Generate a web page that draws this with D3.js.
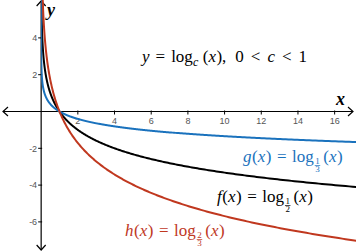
<!DOCTYPE html>
<html>
<head>
<meta charset="utf-8">
<script src="https://cdn.jsdelivr.net/npm/d3@7/dist/d3.min.js"></script>
<style>
  html, body { margin: 0; padding: 0; background: #fff; }
  svg { display: block; }
</style>
</head>
<body>
<div id="chart"></div>
<script>
const W = 356, H = 252;

// bases affichées dans les étiquettes
const BASE_NUM = [1, 1, 2];
const BASE_DEN = [3, 2, 3];
const PLOT_BASE = [0.18, 0.5, 0.667];
const NAMES    = ['g', 'f', 'h'];
const COLORS   = ['#1a72bd', '#000000', '#c0381f'];
const X_TICKS  = [2, 4, 6, 8, 10, 12, 14, 16];
const Y_TICKS  = [-6, -4, -2, 2, 4];

const SERIF = '"Liberation Serif", "DejaVu Serif", serif';

const svg = d3.select('#chart').append('svg')
  .attr('width', W).attr('height', H);

const x = d3.scaleLinear().domain([-2.08, 17]).range([3, 353]);
const y = d3.scaleLinear().domain([-7.5, 6.06]).range([249.5, 0]);

const X0 = x(0), Y0 = y(0);

// axes avec flèches
const axes = svg.append('g').attr('stroke', '#000').attr('stroke-width', 1.2).attr('fill', 'none');
axes.append('line').attr('x1', 3).attr('x2', 353).attr('y1', Y0).attr('y2', Y0);
axes.append('line').attr('x1', X0).attr('x2', X0).attr('y1', 1).attr('y2', 250);
const arrow = (pts) => axes.append('path').attr('d', d3.line()(pts));
arrow([[8, Y0 - 4.5], [3, Y0], [8, Y0 + 4.5]]);
arrow([[348, Y0 - 4.5], [353, Y0], [348, Y0 + 4.5]]);
arrow([[X0 - 4.5, 6], [X0, 1], [X0 + 4.5, 6]]);
arrow([[X0 - 4.5, 245], [X0, 250], [X0 + 4.5, 245]]);

// graduations
const tickG = svg.append('g').attr('font-family', 'Arial, "Liberation Sans", sans-serif')
  .attr('font-size', 9).attr('fill', '#555');
X_TICKS.forEach(v => {
  tickG.append('line').attr('x1', x(v)).attr('x2', x(v)).attr('y1', Y0 - 1).attr('y2', Y0 + 3)
    .attr('stroke', '#000').attr('stroke-width', 1);
  tickG.append('text').attr('x', x(v)).attr('y', Y0 + 12).attr('text-anchor', 'middle').text(v);
});
Y_TICKS.forEach(v => {
  tickG.append('line').attr('x1', X0 - 3).attr('x2', X0 + 1).attr('y1', y(v)).attr('y2', y(v))
    .attr('stroke', '#000').attr('stroke-width', 1);
  tickG.append('text').attr('x', X0 - 4).attr('y', y(v) + 3.2).attr('text-anchor', 'end').text(v);
});

// courbes
svg.append('clipPath').attr('id', 'clip').append('rect')
  .attr('x', X0).attr('y', 0).attr('width', W - X0).attr('height', H);

const xs = d3.range(-8, Math.log10(17.2), 0.005).map(e => Math.pow(10, e));
const line = d3.line().x(d => x(d[0])).y(d => y(d[1]));
[1, 0, 2].forEach(i => {
  const c = PLOT_BASE[i];
  const pts = xs.map(v => [v, Math.log(v) / Math.log(c)]).filter(p => p[1] < 7);
  svg.append('path').attr('clip-path', 'url(#clip)')
    .attr('d', line(pts)).attr('fill', 'none')
    .attr('stroke', COLORS[i]).attr('stroke-width', 2);
});

// étiquettes des axes
svg.append('text').attr('x', 47).attr('y', 16).attr('font-family', SERIF)
  .attr('font-style', 'italic').attr('font-weight', 'bold').attr('font-size', 18).text('y');
svg.append('text').attr('x', 336).attr('y', 105).attr('font-family', SERIF)
  .attr('font-style', 'italic').attr('font-weight', 'bold').attr('font-size', 18).text('x');

/**
 * Écrit une formule morceau par morceau, en avançant le curseur horizontal.
 */
function mathText(x0, y0, color) {
  const g = svg.append('g').attr('transform', `translate(${x0},${y0})`)
    .attr('fill', color).attr('font-family', SERIF);
  let cx = 0;
  const put = (txt, o = {}) => {
    cx += o.pre || 0;
    const t = g.append('text').attr('x', cx).attr('y', o.dy || 0)
      .attr('font-size', o.size || 17)
      .attr('font-style', o.it ? 'italic' : 'normal').text(txt);
    cx += t.node().getComputedTextLength() + (o.post || 0);
  };
  const frac = (n, d) => {
    const a = g.append('text').attr('y', 1.5).attr('font-size', 9).text(n);
    const b = g.append('text').attr('y', 10).attr('font-size', 9).text(d);
    const w = Math.max(a.node().getComputedTextLength(), b.node().getComputedTextLength());
    a.attr('x', cx + 1.5); b.attr('x', cx + 1.5);
    g.append('line').attr('x1', cx + 1).attr('x2', cx + w + 2)
      .attr('y1', 3.5).attr('y2', 3.5).attr('stroke', color).attr('stroke-width', 0.7);
    cx += w + 3;
  };
  return { put, frac };
}

// titre
const t = mathText(142, 62, '#000');
t.put('y', { it: true, post: 6 });
t.put('=', { post: 6 });
t.put('log');
t.put('c', { it: true, size: 12, dy: 3.5, post: 4.5 });
t.put('(');
t.put('x', { it: true, post: 0.5 });
t.put(')');
t.put(',', { post: 9 });
t.put('0', { post: 7 });
t.put('<', { post: 7 });
t.put('c', { it: true, post: 7 });
t.put('<', { post: 7 });
t.put('1');

// étiquettes des fonctions
const LABEL_POS = [[243, 162], [217, 202], [125, 236]];
[0, 1, 2].forEach(i => {
  const m = mathText(LABEL_POS[i][0], LABEL_POS[i][1], COLORS[i]);
  m.put(NAMES[i], { it: true, post: 0.5 });
  m.put('(');
  m.put('x', { it: true, post: 0.5 });
  m.put(')', { post: 5.5 });
  m.put('=', { post: 5.5 });
  m.put('log');
  m.frac(BASE_NUM[i], BASE_DEN[i]);
  m.put('(', { pre: 2 });
  m.put('x', { it: true, post: 0.5 });
  m.put(')');
});
</script>
</body>
</html>
